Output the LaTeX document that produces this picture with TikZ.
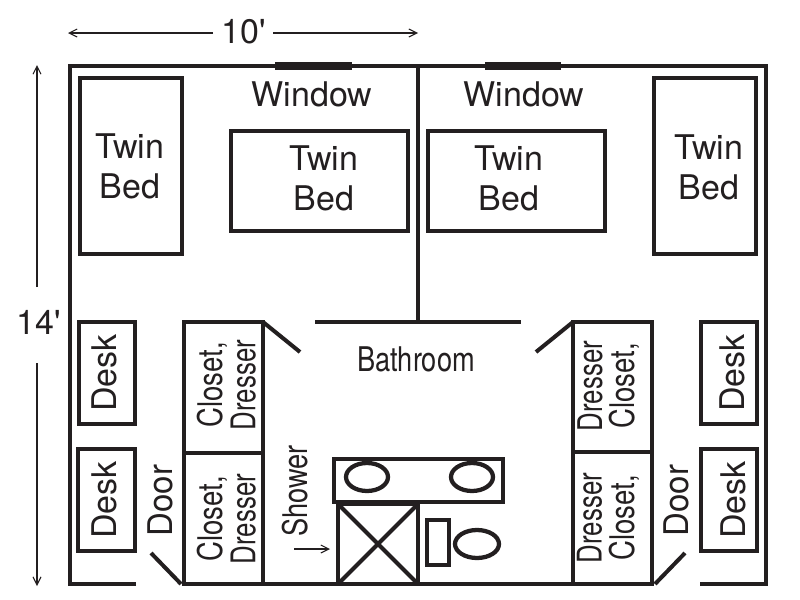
\documentclass[tikz,border=0pt]{standalone}
\usepackage{fontspec}
\setmainfont{TeX Gyre Heros}
\newfontfamily\plainheros{TeX Gyre Heros}
\usetikzlibrary{arrows.meta}
\definecolor{ink}{HTML}{231F20}
\newcommand{\lab}{\fontsize{25.5}{30}\selectfont}
\newcommand{\cond}[2]{\scalebox{#1}[1]{#2}}
\tikzset{
  wall/.style={draw=ink,line width=3pt,line cap=butt},
  thick wall/.style={draw=ink,line width=6pt},
  furn/.style={draw=ink,line width=3.2pt,fill=none},
  dim/.style={draw=ink,line width=0.8pt,-{Straight Barb[length=6pt,width=6pt]}},
  txt/.style={text=ink,font=\lab,align=center,inner sep=0pt},
  vtxt/.style={txt,rotate=90},
  stk/.style={txt,rotate=90,font=\fontsize{25.5}{24.5}\selectfont}
}
\begin{document}
\begin{tikzpicture}[x=0.75pt,y=-0.75pt]
\useasboundingbox (0,0) rectangle (800,600);
% dimension arrows
\coordinate (tm1) at (213,33); \coordinate (tl) at (68,33);
\coordinate (tm2) at (273,33); \coordinate (tr) at (418,33);
\draw[dim] (tm1) -- (tl);
\draw[dim] (tm2) -- (tr);
\node[txt] (ten) at (244,32) {\plainheros 10'};
\coordinate (lm1) at (37,287); \coordinate (lt) at (37,65);
\coordinate (lm2) at (37,363); \coordinate (lb) at (37,586);
\draw[dim] (lm1) -- (lt);
\draw[dim] (lm2) -- (lb);
\node[txt] (fourteen) at (38.5,322) {\plainheros 14'};
% outer walls
\draw[wall] (136,584) -- (70,584) -- (70,66) -- (766,66) -- (766,584) -- (700,584);
\draw[wall] (418,66) -- (418,322);
\draw[wall] (315,322) -- (521,322);
\draw[wall] (184,584) -- (652,584);
% windows
\draw[thick wall] (275,66) -- (352,66);
\draw[thick wall] (485,66) -- (561,66);
\node[txt] (w1) at (312,94) {Window};
\node[txt] (w2) at (524,94) {Window};
% beds
\draw[furn] (80,78) rectangle (182,254);
\draw[furn] (231,131) rectangle (408,231);
\draw[furn] (428,131) rectangle (605,231);
\draw[furn] (654,78) rectangle (756,254);
\node[txt] (b1) at (130,166) {Twin\\Bed};
\node[txt] (b2) at (324,178) {Twin\\Bed};
\node[txt] (b3) at (509,178) {Twin\\Bed};
\node[txt] (b4) at (709,167) {Twin\\Bed};
% desks
\draw[furn] (79,322) rectangle (135,424);
\draw[furn] (78,449) rectangle (135,551);
\draw[furn] (701,322) rectangle (757,424);
\draw[furn] (701,449) rectangle (757,551);
\node[vtxt] (d1) at (104.5,373) {Desk};
\node[vtxt] (d2) at (104.5,500) {Desk};
\node[vtxt] (d3) at (732,373) {Desk};
\node[vtxt] (d4) at (733,500) {Desk};
% closets
\draw[furn] (184,322) rectangle (263,584);
\draw[wall] (184,453) -- (263,453);
\draw[furn] (573,322) rectangle (652,584);
\draw[wall] (573,452) -- (652,452);
\node[stk] (c1) at (226.5,385) {\cond{.81}{Closet,}\\\cond{.76}{Dresser}};
\node[stk] (c2) at (226.5,519) {\cond{.81}{Closet,}\\\cond{.76}{Dresser}};
\node[stk] (c3) at (608.5,386) {\cond{.76}{Dresser}\\\cond{.81}{Closet,}};
\node[stk] (c4) at (608,518) {\cond{.76}{Dresser}\\\cond{.81}{Closet,}};
% doors
\draw[wall] (263,322) -- (300,352);
\draw[wall] (573,322) -- (536,352);
\draw[wall] (181,584) -- (151,553);
\draw[wall] (655,584) -- (685,553);
\node[vtxt] (dl) at (160.5,500.5) {\cond{.97}{Door}};
\node[vtxt] (dr) at (676,500.5) {\cond{.97}{Door}};
% bathroom
\node[txt] (bath) at (416,359) {\cond{.80}{Bathroom}};
\draw[furn] (334,459) rectangle (503,502);
\draw[furn] (367,477) ellipse [x radius=21,y radius=14];
\draw[furn] (472,477) ellipse [x radius=21,y radius=14];
\draw[furn] (338,504) rectangle (418,584);
\draw[wall] (338,504) -- (418,584);
\draw[wall] (418,504) -- (338,584);
\draw[furn] (427,520) rectangle (449,565);
\draw[furn] (477,544) ellipse [x radius=22,y radius=14];
\node[vtxt] (sh) at (295,491) {\cond{.80}{Shower}};
\coordinate (sa) at (294,549); \coordinate (sb) at (330,549);
\draw[dim] (sa) -- (sb);
\end{tikzpicture}
\end{document}
